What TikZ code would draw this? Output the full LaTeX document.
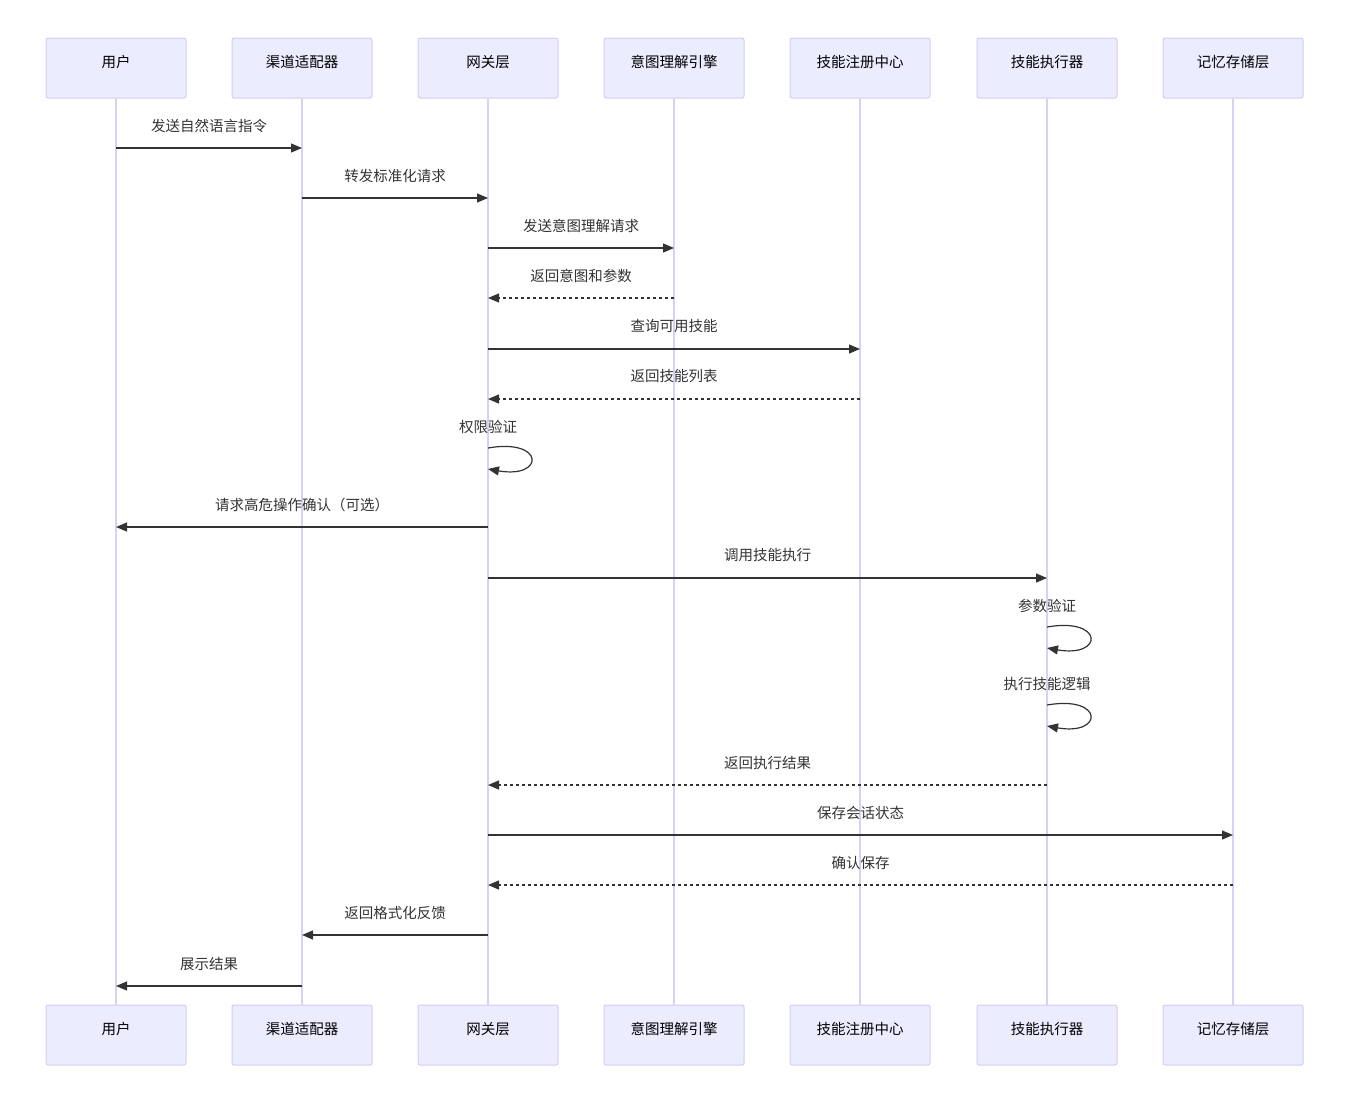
\documentclass[tikz,border=0pt]{standalone}
\usepackage{fontspec}
\setmainfont{Noto Sans CJK SC}
\usetikzlibrary{arrows.meta,positioning}
\definecolor{actorfill}{HTML}{ECECFF}
\definecolor{actorline}{HTML}{D4CCF2}
\definecolor{lifecol}{HTML}{D9D0F5}
\definecolor{msgcol}{HTML}{333333}
\tikzstyle{actor}=[draw=actorline, fill=actorfill, rounded corners=2pt, line width=1pt,
  minimum width=140pt, minimum height=60pt, inner sep=0pt, text=black,
  text height=11pt, text depth=13pt, font=\fontsize{14.5}{16}\selectfont]
\tikzstyle{life}=[draw=lifecol, line width=1.5pt]
\tikzstyle{msg}=[draw=msgcol, line width=1.2pt, -{Triangle[length=11pt,width=9pt]}]
\tikzstyle{reply}=[msg, dash pattern=on 3pt off 3pt]
\tikzstyle{msgtext}=[text=msgcol, inner sep=0pt, font=\fontsize{14.5}{16}\selectfont]

\begin{document}
\begin{tikzpicture}[x=1pt, y=-1pt]
    \useasboundingbox (0,0) rectangle (1350,1104);

    % First the participants, on top and at the bottom, with their lifelines
    \foreach \x/\name/\txt in {116/user/用户, 302/chan/渠道适配器, 488/gw/网关层,
        674/intent/意图理解引擎, 860/reg/技能注册中心, 1047/exec/技能执行器, 1233/mem/记忆存储层}
    {
        \node[actor] (\name) at (\x,68) {\txt};
        \node[actor] (\name b) at (\x,1035) {\txt};
        \draw[life] (\name.south) -- (\name b.north);
    }

    % Messages between lifelines
    \foreach \y/\src/\dst/\txt/\sty in {148/user/chan/发送自然语言指令/msg,
        198/chan/gw/转发标准化请求/msg, 248/gw/intent/发送意图理解请求/msg,
        298/intent/gw/返回意图和参数/reply, 349/gw/reg/查询可用技能/msg,
        399/reg/gw/返回技能列表/reply, 527/gw/user/请求高危操作确认（可选）/msg,
        578/gw/exec/调用技能执行/msg, 785/exec/gw/返回执行结果/reply,
        835/gw/mem/保存会话状态/msg, 885/mem/gw/确认保存/reply,
        935/gw/chan/返回格式化反馈/msg, 986/chan/user/展示结果/msg}
    {
        \coordinate (m\y) at (0,\y);
        \draw[\sty] (\src |- m\y) -- node[msgtext, yshift=22.5pt] {\txt} (\dst |- m\y);
    }

    % Self messages
    \foreach \y/\who/\txt in {448/gw/权限验证, 627/exec/参数验证, 705/exec/执行技能逻辑}
    {
        \coordinate (s\y) at (0,\y);
        \coordinate (e\y) at (0,\y+21);
        \node[msgtext] (t\y) at ([yshift=21pt]\who |- s\y) {\txt};
        \draw[msg] (\who |- s\y) .. controls +(57,-10) and +(57,10) .. (\who |- e\y);
    }
\end{tikzpicture}
\end{document}
